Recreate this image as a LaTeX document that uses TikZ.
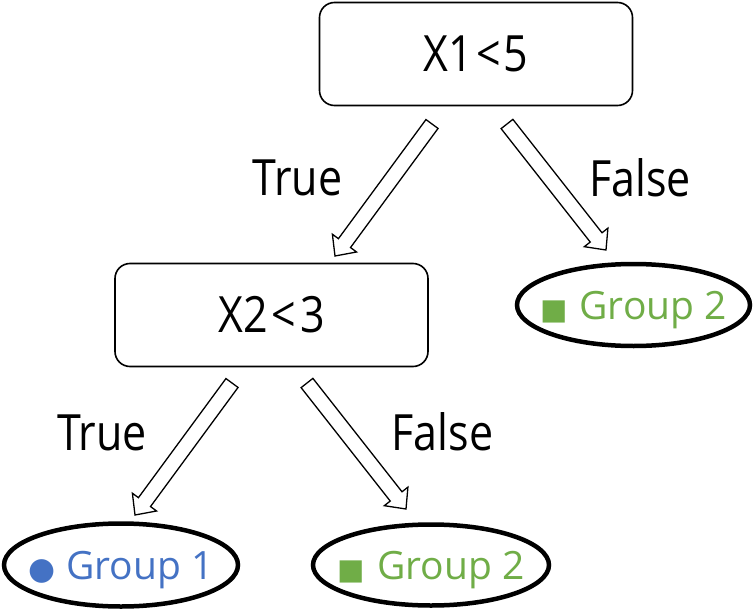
\documentclass[tikz,border=0pt]{standalone}
\usepackage{fontspec}
\setmainfont{Open Sans}
\newfontfamily\labelfont{Open Sans}[FakeStretch=0.86]
\newfontfamily\symfont{DejaVu Sans}
\usetikzlibrary{calc}
\definecolor{groupblue}{HTML}{4472C4}
\definecolor{groupgreen}{HTML}{70AD47}
\tikzset{
	split/.style={draw, rounded corners=15pt, line width=1.6pt, minimum width=313pt, minimum height=103pt, inner sep=0pt, outer sep=0pt, font=\labelfont\fontsize{50}{60}\selectfont},
	leaf/.style={inner sep=0pt, outer sep=0pt, text height=28pt, text depth=0pt, font=\fontsize{39}{47}\selectfont},
	leafline/.style={draw, line width=4.5pt},
	branch/.style={anchor=base, inner sep=0pt, font=\labelfont\fontsize{50}{60}\selectfont},
	hollow/.style={draw, line width=1.3pt, line join=miter, fill=white}
}
% hollow block arrow from #1 (tail) to #2 (tip)
\newcommand{\blockarrow}[2]{%
	\coordinate (hb) at ($(#2)!16pt!(#1)$);
	\draw[hollow] ($(#1)!7.5pt!90:(#2)$) -- ($(hb)!7.5pt!90:(#2)$) -- ($(hb)!15pt!90:(#2)$) -- (#2)
		-- ($(hb)!15pt!-90:(#2)$) -- ($(hb)!7.5pt!-90:(#2)$) -- ($(#1)!7.5pt!-90:(#2)$) -- cycle;
}
\newcommand{\groupdot}{{\symfont\fontsize{31}{31}\selectfont ●}\hspace{11pt}}
\newcommand{\groupsquare}{{\symfont\fontsize{29}{29}\selectfont ■}\hspace{12pt}}
\begin{document}
\begin{tikzpicture}[x=1pt, y=-1pt]
		\useasboundingbox (0,0) rectangle (755,615);
		%splits
		\node[split] (x1) at (476,54) {X1\kern3pt<\kern3pt5};
		\node[split] (x2) at (271.5,315) {X2\kern4pt<\kern4pt3};
		
		%leaves
		\node[leaf, text=groupgreen] (g2a) at (633.5,305) {\groupsquare Group 2};
		\node[leaf, text=groupblue] (g1) at (121,565) {\groupdot Group 1};
		\node[leaf, text=groupgreen] (g2b) at (431,565) {\groupsquare Group 2};
		\draw[leafline] (g2a.center) ellipse [x radius=116.5, y radius=41];
		\draw[leafline] (g1.center) ellipse [x radius=117, y radius=41.5];
		\draw[leafline] (g2b.center) ellipse [x radius=118, y radius=40.5];
		
		%branch labels
		\node[branch] (true1) at (297.5,195) {True};
		\node[branch] (false1) at (640,196) {False};
		\node[branch] (true2) at (102,450) {True};
		\node[branch] (false2) at (442.5,450) {False};
		
		%arrows
		\coordinate (a1) at ($(x1.south)+(-44,18.5)$);
		\coordinate (b1) at ($(x2.north)+(63.5,-7.5)$);
		\coordinate (a2) at ($(x1.south)+(31,18.5)$);
		\coordinate (b2) at ($(g2a.center)+(-27.5,-55)$);
		\coordinate (a3) at ($(x2.south)+(-39.5,16.5)$);
		\coordinate (b3) at ($(g1.center)+(14,-50)$);
		\coordinate (a4) at ($(x2.south)+(35.5,16.5)$);
		\coordinate (b4) at ($(g2b.center)+(-25,-56)$);
		\blockarrow{a1}{b1}
		\blockarrow{a2}{b2}
		\blockarrow{a3}{b3}
		\blockarrow{a4}{b4}
\end{tikzpicture}
\end{document}
